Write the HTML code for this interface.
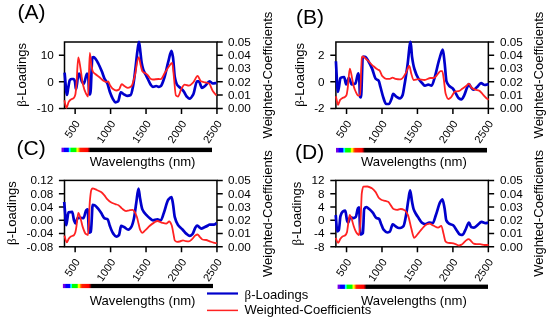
<!DOCTYPE html><html><head><meta charset="utf-8"><style>html,body{margin:0;padding:0;background:#fff;}svg{display:block;will-change:transform;filter:blur(0.3px);}text{font-family:"Liberation Sans", sans-serif;fill:#000;}</style></head><body>
<svg width="550" height="322" viewBox="0 0 550 322">
<rect width="100%" height="100%" fill="#fff"/>
<rect x="64.50" y="42.00" width="152.45" height="66.40" fill="none" stroke="#000" stroke-width="1.50"/>
<path d="M58.90,55.28H64.50 M58.90,81.84H64.50 M58.90,108.40H64.50 M216.95,42.00H222.75 M216.95,55.28H222.75 M216.95,68.56H222.75 M216.95,81.84H222.75 M216.95,95.12H222.75 M216.95,108.40H222.75 M75.14,108.40V113.90 M110.59,108.40V113.90 M146.04,108.40V113.90 M181.50,108.40V113.90 M216.95,108.40V113.90" stroke="#000" stroke-width="1.50" fill="none"/>
<g fill="none" stroke-linejoin="round" stroke-linecap="butt">
<path d="M64.60,72.70 C65.40,80.13 66.20,95.00 67.00,95.00 C67.40,95.00 67.80,90.10 68.20,88.00 C68.77,85.03 69.33,80.57 69.90,80.00 C70.50,79.40 71.10,79.00 71.70,79.00 C72.33,79.00 72.97,79.00 73.60,79.00 C74.07,79.00 74.53,80.22 75.00,81.80 C75.30,82.81 75.60,89.30 75.90,89.30 C76.23,89.30 76.57,86.48 76.90,84.60 C77.37,81.97 77.83,75.18 78.30,74.40 C78.60,73.90 78.90,73.50 79.20,73.50 C79.67,73.50 80.13,75.83 80.60,77.20 C81.07,78.57 81.53,81.04 82.00,81.80 C82.60,82.78 83.20,83.70 83.80,83.70 C84.87,83.70 85.93,73.70 87.00,73.70 C87.40,73.70 87.80,74.58 88.20,76.00 C88.53,77.19 88.87,94.30 89.20,94.30 C89.57,94.30 89.93,94.30 90.30,94.30 C91.00,94.30 91.70,57.85 92.40,57.40 C92.77,57.16 93.13,57.00 93.50,57.00 C94.33,57.00 95.17,58.44 96.00,59.50 C96.77,60.48 97.53,62.01 98.30,63.50 C99.50,65.83 100.70,68.66 101.90,71.60 C102.80,73.81 103.70,76.95 104.60,78.80 C105.50,80.65 106.40,81.30 107.30,83.30 C108.20,85.30 109.10,89.83 110.00,92.30 C110.90,94.77 111.80,97.05 112.70,98.60 C113.60,100.15 114.50,102.30 115.40,102.30 C116.30,102.30 117.20,101.95 118.10,101.40 C119.00,100.85 119.90,92.30 120.80,92.30 C121.70,92.30 122.60,93.58 123.50,94.10 C124.70,94.79 125.90,95.90 127.10,95.90 C128.30,95.90 129.50,95.60 130.70,95.00 C131.50,94.60 132.30,89.99 133.10,86.00 C133.87,82.18 134.63,75.23 135.40,69.00 C136.03,63.86 136.67,56.51 137.30,52.00 C137.87,47.97 138.43,41.90 139.00,41.90 C139.50,41.90 140.00,48.88 140.50,52.90 C140.87,55.85 141.23,60.45 141.60,62.60 C142.17,65.93 142.73,68.21 143.30,69.80 C144.10,72.05 144.90,73.08 145.70,74.70 C146.50,76.32 147.30,77.88 148.10,79.50 C148.90,81.12 149.70,83.33 150.50,84.40 C151.30,85.47 152.10,86.80 152.90,86.80 C154.00,86.80 155.10,86.00 156.20,86.00 C157.00,86.00 157.80,86.80 158.60,86.80 C159.30,86.80 160.00,86.49 160.70,86.10 C161.77,85.51 162.83,82.06 163.90,79.10 C165.37,75.03 166.83,67.02 168.30,61.70 C169.37,57.83 170.43,50.90 171.50,50.90 C172.00,50.90 172.50,54.34 173.00,57.40 C173.60,61.07 174.20,73.80 174.80,77.00 C175.53,80.91 176.27,83.42 177.00,84.60 C178.07,86.31 179.13,86.73 180.20,87.80 C181.30,88.90 182.40,89.72 183.50,91.10 C184.57,92.44 185.63,95.39 186.70,96.50 C187.67,97.51 188.63,98.70 189.60,98.70 C190.83,98.70 192.07,96.49 193.30,94.30 C194.53,92.11 195.77,81.30 197.00,81.30 C197.57,81.30 198.13,81.30 198.70,81.30 C199.80,81.30 200.90,87.80 202.00,87.80 C203.07,87.80 204.13,86.54 205.20,85.70 C206.67,84.55 208.13,81.30 209.60,81.30 C210.67,81.30 211.73,83.50 212.80,83.50 C214.03,83.50 215.27,83.17 216.50,83.00" stroke="#0000cc" stroke-width="2.7"/>
<path d="M64.40,100.30 C65.07,102.80 65.73,107.80 66.40,107.80 C67.20,107.80 68.00,102.84 68.80,101.70 C69.50,100.70 70.20,100.11 70.90,99.60 C71.90,98.86 72.90,98.87 73.90,97.90 C74.37,97.45 74.83,96.51 75.30,94.80 C75.63,93.58 75.97,89.54 76.30,86.00 C76.97,78.92 77.63,57.40 78.30,57.40 C79.03,57.40 79.77,64.07 80.50,68.30 C81.23,72.53 81.97,80.31 82.70,83.50 C83.77,88.14 84.83,91.24 85.90,93.30 C86.63,94.72 87.37,96.50 88.10,96.50 C88.67,96.50 89.23,53.00 89.80,53.00 C90.37,53.00 90.93,63.05 91.50,66.00 C91.97,68.43 92.43,70.80 92.90,71.60 C93.80,73.14 94.70,73.52 95.60,74.30 C96.80,75.34 98.00,76.01 99.20,77.00 C100.40,77.99 101.60,79.52 102.80,80.30 C104.00,81.08 105.20,82.10 106.40,82.10 C107.00,82.10 107.60,81.50 108.20,81.50 C108.80,81.50 109.40,84.13 110.00,85.10 C110.90,86.56 111.80,88.03 112.70,88.70 C113.90,89.59 115.10,90.50 116.30,90.50 C117.20,90.50 118.10,90.11 119.00,89.60 C119.90,89.09 120.80,84.20 121.70,84.20 C122.60,84.20 123.50,85.48 124.40,86.00 C125.60,86.69 126.80,87.80 128.00,87.80 C129.20,87.80 130.40,87.05 131.60,86.00 C132.60,85.12 133.60,80.49 134.60,76.80 C135.97,71.75 137.33,57.20 138.70,57.20 C139.40,57.20 140.10,63.23 140.80,65.80 C141.37,67.88 141.93,70.84 142.50,71.50 C143.30,72.42 144.10,72.57 144.90,73.10 C145.70,73.63 146.50,74.01 147.30,74.70 C148.37,75.61 149.43,78.15 150.50,78.70 C151.30,79.11 152.10,79.50 152.90,79.50 C154.80,79.50 156.70,79.00 158.60,79.00 C159.30,79.00 160.00,79.10 160.70,79.10 C162.13,79.10 163.57,74.78 165.00,72.60 C166.43,70.42 167.87,67.82 169.30,66.00 C170.27,64.77 171.23,62.80 172.20,62.80 C172.70,62.80 173.20,70.51 173.70,74.80 C174.43,81.10 175.17,94.68 175.90,95.40 C176.60,96.09 177.30,96.50 178.00,96.50 C179.10,96.50 180.20,90.73 181.30,88.90 C182.40,87.07 183.50,84.60 184.60,84.60 C186.03,84.60 187.47,85.70 188.90,85.70 C190.37,85.70 191.83,83.87 193.30,82.40 C194.73,80.96 196.17,75.90 197.60,75.90 C198.70,75.90 199.80,80.80 200.90,81.30 C202.33,81.96 203.77,82.02 205.20,82.40 C206.50,82.75 207.80,82.85 209.10,83.50 C210.33,84.12 211.57,89.27 212.80,91.10 C214.03,92.93 215.27,93.97 216.50,95.40" stroke="#ff2222" stroke-width="1.8"/>
</g>
<text x="53.70" y="59.18" font-size="11.7" text-anchor="end">10</text>
<text x="53.70" y="85.74" font-size="11.7" text-anchor="end">0</text>
<text x="53.70" y="112.30" font-size="11.7" text-anchor="end">-10</text>
<text x="228.10" y="45.90" font-size="11.7">0.05</text>
<text x="228.10" y="59.18" font-size="11.7">0.04</text>
<text x="228.10" y="72.46" font-size="11.7">0.03</text>
<text x="228.10" y="85.74" font-size="11.7">0.02</text>
<text x="228.10" y="99.02" font-size="11.7">0.01</text>
<text x="228.10" y="112.30" font-size="11.7">0.00</text>
<text x="0" y="0" font-size="11.0" text-anchor="end" transform="translate(80.54,123.60) rotate(-56.0)">500</text>
<text x="0" y="0" font-size="11.0" text-anchor="end" transform="translate(115.99,123.60) rotate(-56.0)">1000</text>
<text x="0" y="0" font-size="11.0" text-anchor="end" transform="translate(151.44,123.60) rotate(-56.0)">1500</text>
<text x="0" y="0" font-size="11.0" text-anchor="end" transform="translate(186.90,123.60) rotate(-56.0)">2000</text>
<text x="0" y="0" font-size="11.0" text-anchor="end" transform="translate(222.35,123.60) rotate(-56.0)">2500</text>
<text x="0" y="0" font-size="13" text-anchor="middle" transform="translate(25.70,74.90) rotate(-90)"><tspan font-family="Liberation Serif">β</tspan>-Loadings</text>
<text x="0" y="0" font-size="13" text-anchor="middle" transform="translate(271.50,75.05) rotate(-90)">Weighted-Coefficients</text>
<text x="17.50" y="18.70" font-size="21">(A)</text>
<linearGradient id="gA" x1="0" x2="1" y1="0" y2="0"><stop offset="0.0000" stop-color="#8000e0"/><stop offset="0.0146" stop-color="#6000f0"/><stop offset="0.0199" stop-color="#0000ff"/><stop offset="0.0452" stop-color="#0000ff"/><stop offset="0.0518" stop-color="#00ffff"/><stop offset="0.0571" stop-color="#00ffff"/><stop offset="0.0638" stop-color="#00ff00"/><stop offset="0.0944" stop-color="#00ff00"/><stop offset="0.1037" stop-color="#ffff00"/><stop offset="0.1090" stop-color="#ffff00"/><stop offset="0.1169" stop-color="#ff8000"/><stop offset="0.1262" stop-color="#ff2000"/><stop offset="0.1728" stop-color="#ff0000"/><stop offset="0.1827" stop-color="#800000"/><stop offset="0.1914" stop-color="#000000"/></linearGradient>
<rect x="61.50" y="147.70" width="150.50" height="4.40" fill="url(#gA)"/>
<text x="89.70" y="165.90" font-size="13.1">Wavelengths (nm)</text>
<rect x="335.90" y="42.00" width="152.45" height="66.40" fill="none" stroke="#000" stroke-width="1.50"/>
<path d="M330.30,55.28H335.90 M330.30,81.84H335.90 M330.30,108.40H335.90 M488.35,42.00H494.15 M488.35,55.28H494.15 M488.35,68.56H494.15 M488.35,81.84H494.15 M488.35,95.12H494.15 M488.35,108.40H494.15 M346.54,108.40V113.90 M381.99,108.40V113.90 M417.44,108.40V113.90 M452.90,108.40V113.90 M488.35,108.40V113.90" stroke="#000" stroke-width="1.50" fill="none"/>
<g fill="none" stroke-linejoin="round" stroke-linecap="butt">
<path d="M335.90,61.20 C336.20,66.80 336.50,72.93 336.80,78.00 C337.10,83.07 337.40,91.90 337.70,91.90 C338.07,91.90 338.43,89.60 338.80,88.00 C339.37,85.53 339.93,78.20 340.50,77.90 C341.73,77.25 342.97,77.00 344.20,77.00 C344.83,77.00 345.47,84.40 346.10,84.40 C347.03,84.40 347.97,77.90 348.90,77.90 C349.83,77.90 350.77,84.40 351.70,84.40 C352.93,84.40 354.17,84.09 355.40,83.50 C356.33,83.06 357.27,73.30 358.20,73.30 C358.53,73.30 358.87,75.33 359.20,78.00 C359.47,80.14 359.73,96.12 360.00,96.60 C360.33,97.20 360.67,97.50 361.00,97.50 C361.60,97.50 362.20,58.44 362.80,57.40 C363.10,56.88 363.40,56.50 363.70,56.50 C364.30,56.50 364.90,56.73 365.50,57.00 C366.47,57.43 367.43,59.59 368.40,61.20 C369.63,63.26 370.87,65.73 372.10,68.60 C373.33,71.47 374.57,77.65 375.80,78.90 C376.73,79.85 377.67,79.64 378.60,80.70 C379.23,81.42 379.87,84.96 380.50,87.20 C381.43,90.50 382.37,94.84 383.30,97.50 C384.23,100.16 385.17,104.00 386.10,104.00 C387.03,104.00 387.97,104.00 388.90,104.00 C389.83,104.00 390.77,100.79 391.70,98.40 C392.17,97.21 392.63,93.80 393.10,93.80 C394.17,93.80 395.23,95.93 396.30,96.60 C397.53,97.38 398.77,98.40 400.00,98.40 C400.83,98.40 401.67,97.08 402.50,95.40 C403.10,94.19 403.70,89.52 404.30,86.10 C405.33,80.22 406.37,73.20 407.40,66.00 C408.47,58.57 409.53,41.90 410.60,41.90 C411.07,41.90 411.53,53.27 412.00,56.60 C412.80,62.31 413.60,66.29 414.40,69.00 C415.70,73.40 417.00,76.29 418.30,78.40 C419.70,80.67 421.10,82.09 422.50,83.50 C423.33,84.34 424.17,85.70 425.00,85.70 C426.10,85.70 427.20,84.60 428.30,84.60 C429.40,84.60 430.50,85.70 431.60,85.70 C432.67,85.70 433.73,80.40 434.80,77.00 C436.27,72.32 437.73,64.33 439.20,59.60 C440.40,55.73 441.60,49.70 442.80,49.70 C443.43,49.70 444.07,58.28 444.70,63.60 C445.30,68.64 445.90,79.49 446.50,81.30 C447.43,84.12 448.37,85.01 449.30,86.00 C450.53,87.31 451.77,87.50 453.00,88.80 C453.93,89.78 454.87,91.85 455.80,93.40 C456.73,94.95 457.67,97.42 458.60,98.10 C459.53,98.78 460.47,99.40 461.40,99.40 C462.33,99.40 463.27,97.07 464.20,95.30 C465.13,93.53 466.07,89.88 467.00,87.80 C467.63,86.39 468.27,84.10 468.90,84.10 C469.50,84.10 470.10,86.16 470.70,86.90 C471.63,88.05 472.57,89.70 473.50,89.70 C474.73,89.70 475.97,87.95 477.20,86.90 C478.47,85.82 479.73,83.20 481.00,83.20 C482.23,83.20 483.47,85.00 484.70,85.00 C485.93,85.00 487.17,84.40 488.40,84.10" stroke="#0000cc" stroke-width="2.7"/>
<path d="M335.90,96.20 C336.63,99.10 337.37,104.90 338.10,104.90 C338.77,104.90 339.43,100.72 340.10,99.90 C340.80,99.04 341.50,98.63 342.20,98.20 C343.10,97.65 344.00,97.55 344.90,96.90 C345.47,96.49 346.03,96.02 346.60,94.80 C346.93,94.08 347.27,91.31 347.60,89.00 C348.33,83.91 349.07,68.60 349.80,68.60 C350.43,68.60 351.07,73.26 351.70,76.10 C352.30,78.79 352.90,83.14 353.50,85.40 C354.13,87.78 354.77,89.62 355.40,91.00 C356.33,93.03 357.27,95.70 358.20,95.70 C358.80,95.70 359.40,95.38 360.00,94.80 C360.63,94.19 361.27,58.49 361.90,57.40 C362.20,56.88 362.50,56.50 362.80,56.50 C364.33,56.50 365.87,58.84 367.40,60.20 C369.27,61.86 371.13,64.14 373.00,65.80 C374.57,67.20 376.13,68.66 377.70,69.60 C378.30,69.96 378.90,70.04 379.50,70.50 C380.43,71.22 381.37,75.07 382.30,76.10 C383.57,77.50 384.83,78.90 386.10,78.90 C387.33,78.90 388.57,78.90 389.80,78.90 C390.73,78.90 391.67,77.60 392.60,77.60 C393.53,77.60 394.47,78.73 395.40,78.90 C396.93,79.18 398.47,79.40 400.00,79.40 C400.40,79.40 400.80,79.30 401.20,79.20 C402.77,78.80 404.33,75.46 405.90,72.90 C407.03,71.05 408.17,66.00 409.30,66.00 C409.97,66.00 410.63,71.56 411.30,73.70 C412.07,76.16 412.83,80.00 413.60,80.00 C415.17,80.00 416.73,79.20 418.30,79.20 C420.37,79.20 422.43,80.00 424.50,80.00 C426.50,80.00 428.50,78.00 430.50,78.00 C431.57,78.00 432.63,78.00 433.70,78.00 C435.17,78.00 436.63,75.21 438.10,73.70 C438.90,72.87 439.70,71.10 440.50,71.10 C441.07,71.10 441.63,71.10 442.20,71.10 C442.70,71.10 443.20,75.50 443.70,78.50 C444.33,82.30 444.97,91.30 445.60,93.40 C446.53,96.49 447.47,99.00 448.40,99.00 C449.33,99.00 450.27,97.95 451.20,97.10 C452.43,95.97 453.67,91.85 454.90,91.60 C456.13,91.35 457.37,91.43 458.60,91.20 C459.83,90.97 461.07,89.65 462.30,88.80 C463.57,87.93 464.83,86.99 466.10,86.00 C467.03,85.27 467.97,83.70 468.90,83.70 C469.83,83.70 470.77,87.07 471.70,87.80 C472.93,88.76 474.17,89.29 475.40,89.70 C476.63,90.11 477.87,90.12 479.10,90.60 C480.33,91.08 481.57,93.07 482.80,94.30 C484.37,95.87 485.93,98.20 487.50,99.00 C487.93,99.22 488.37,99.33 488.80,99.50" stroke="#ff2222" stroke-width="1.8"/>
</g>
<text x="324.60" y="59.18" font-size="11.7" text-anchor="end">2</text>
<text x="324.60" y="85.74" font-size="11.7" text-anchor="end">0</text>
<text x="324.60" y="112.30" font-size="11.7" text-anchor="end">-2</text>
<text x="499.90" y="45.90" font-size="11.7">0.05</text>
<text x="499.90" y="59.18" font-size="11.7">0.04</text>
<text x="499.90" y="72.46" font-size="11.7">0.03</text>
<text x="499.90" y="85.74" font-size="11.7">0.02</text>
<text x="499.90" y="99.02" font-size="11.7">0.01</text>
<text x="499.90" y="112.30" font-size="11.7">0.00</text>
<text x="0" y="0" font-size="11.0" text-anchor="end" transform="translate(351.94,123.60) rotate(-56.0)">500</text>
<text x="0" y="0" font-size="11.0" text-anchor="end" transform="translate(387.39,123.60) rotate(-56.0)">1000</text>
<text x="0" y="0" font-size="11.0" text-anchor="end" transform="translate(422.84,123.60) rotate(-56.0)">1500</text>
<text x="0" y="0" font-size="11.0" text-anchor="end" transform="translate(458.30,123.60) rotate(-56.0)">2000</text>
<text x="0" y="0" font-size="11.0" text-anchor="end" transform="translate(493.75,123.60) rotate(-56.0)">2500</text>
<text x="0" y="0" font-size="13" text-anchor="middle" transform="translate(303.70,74.90) rotate(-90)"><tspan font-family="Liberation Serif">β</tspan>-Loadings</text>
<text x="0" y="0" font-size="13" text-anchor="middle" transform="translate(543.40,75.05) rotate(-90)">Weighted-Coefficients</text>
<text x="295.90" y="23.50" font-size="21">(B)</text>
<linearGradient id="gB" x1="0" x2="1" y1="0" y2="0"><stop offset="0.0000" stop-color="#8000e0"/><stop offset="0.0146" stop-color="#6000f0"/><stop offset="0.0199" stop-color="#0000ff"/><stop offset="0.0450" stop-color="#0000ff"/><stop offset="0.0517" stop-color="#00ffff"/><stop offset="0.0570" stop-color="#00ffff"/><stop offset="0.0636" stop-color="#00ff00"/><stop offset="0.0940" stop-color="#00ff00"/><stop offset="0.1033" stop-color="#ffff00"/><stop offset="0.1086" stop-color="#ffff00"/><stop offset="0.1166" stop-color="#ff8000"/><stop offset="0.1258" stop-color="#ff2000"/><stop offset="0.1722" stop-color="#ff0000"/><stop offset="0.1821" stop-color="#800000"/><stop offset="0.1907" stop-color="#000000"/></linearGradient>
<rect x="336.00" y="147.90" width="151.00" height="4.60" fill="url(#gB)"/>
<text x="361.00" y="166.10" font-size="13.1">Wavelengths (nm)</text>
<rect x="64.50" y="180.40" width="152.45" height="66.40" fill="none" stroke="#000" stroke-width="1.50"/>
<path d="M58.90,180.40H64.50 M58.90,193.68H64.50 M58.90,206.96H64.50 M58.90,220.24H64.50 M58.90,233.52H64.50 M58.90,246.80H64.50 M216.95,180.40H222.75 M216.95,193.68H222.75 M216.95,206.96H222.75 M216.95,220.24H222.75 M216.95,233.52H222.75 M216.95,246.80H222.75 M75.14,246.80V252.30 M110.59,246.80V252.30 M146.04,246.80V252.30 M181.50,246.80V252.30 M216.95,246.80V252.30" stroke="#000" stroke-width="1.50" fill="none"/>
<g fill="none" stroke-linejoin="round" stroke-linecap="butt">
<path d="M64.20,202.00 C64.53,206.00 64.87,209.93 65.20,214.00 C65.50,217.67 65.80,225.20 66.10,225.20 C66.47,225.20 66.83,221.93 67.20,220.00 C67.63,217.72 68.07,212.31 68.50,212.20 C69.73,211.89 70.97,211.80 72.20,211.80 C72.83,211.80 73.47,218.78 74.10,220.60 C74.53,221.85 74.97,223.40 75.40,223.40 C76.20,223.40 77.00,217.80 77.80,217.80 C78.73,217.80 79.67,217.80 80.60,217.80 C81.53,217.80 82.47,218.20 83.40,218.20 C84.33,218.20 85.27,211.17 86.20,210.30 C86.70,209.84 87.20,209.40 87.70,209.40 C88.13,209.40 88.57,232.70 89.00,232.70 C89.63,232.70 90.27,232.39 90.90,231.80 C91.50,231.24 92.10,204.80 92.70,204.80 C93.33,204.80 93.97,204.99 94.60,205.20 C95.70,205.56 96.80,207.15 97.90,208.40 C98.97,209.61 100.03,211.21 101.10,212.80 C102.20,214.44 103.30,217.59 104.40,218.20 C105.50,218.81 106.60,218.60 107.70,219.30 C108.40,219.75 109.10,223.93 109.80,225.80 C110.90,228.74 112.00,231.84 113.10,233.40 C114.17,234.92 115.23,236.70 116.30,236.70 C117.20,236.70 118.10,236.02 119.00,235.00 C119.70,234.20 120.40,225.80 121.10,225.80 C122.07,225.80 123.03,226.53 124.00,227.00 C125.47,227.72 126.93,229.70 128.40,229.70 C129.43,229.70 130.47,228.22 131.50,226.60 C132.30,225.35 133.10,222.32 133.90,218.80 C134.67,215.43 135.43,208.35 136.20,203.30 C136.97,198.25 137.73,188.50 138.50,188.50 C139.03,188.50 139.57,195.69 140.10,198.60 C140.87,202.79 141.63,207.78 142.40,209.50 C143.70,212.42 145.00,213.45 146.30,214.90 C147.47,216.20 148.63,217.27 149.80,218.20 C150.87,219.05 151.93,220.40 153.00,220.40 C154.47,220.40 155.93,219.30 157.40,219.30 C158.50,219.30 159.60,220.40 160.70,220.40 C161.77,220.40 162.83,215.60 163.90,212.80 C165.37,208.95 166.83,201.52 168.30,199.70 C169.37,198.38 170.43,197.10 171.50,197.10 C172.00,197.10 172.50,201.20 173.00,204.00 C173.60,207.36 174.20,214.78 174.80,217.10 C175.87,221.22 176.93,223.44 178.00,225.00 C179.50,227.19 181.00,227.92 182.50,229.50 C183.73,230.80 184.97,232.60 186.20,233.60 C187.40,234.57 188.60,235.90 189.80,235.90 C190.70,235.90 191.60,235.03 192.50,234.10 C193.43,233.14 194.37,229.15 195.30,227.70 C195.90,226.76 196.50,225.50 197.10,225.50 C197.70,225.50 198.30,226.35 198.90,226.80 C199.67,227.37 200.43,228.60 201.20,228.60 C202.27,228.60 203.33,227.78 204.40,227.30 C205.60,226.76 206.80,226.18 208.00,225.50 C208.53,225.20 209.07,224.50 209.60,224.50 C211.03,224.50 212.47,224.70 213.90,224.70 C214.77,224.70 215.63,223.70 216.50,223.20" stroke="#0000cc" stroke-width="2.7"/>
<path d="M64.40,235.60 C65.20,237.87 66.00,242.40 66.80,242.40 C67.47,242.40 68.13,239.45 68.80,238.60 C69.50,237.71 70.20,237.05 70.90,236.60 C71.90,235.96 72.90,236.01 73.90,235.20 C74.37,234.82 74.83,233.84 75.30,232.50 C75.63,231.54 75.97,229.36 76.30,227.40 C76.97,223.47 77.63,212.80 78.30,212.80 C79.03,212.80 79.77,215.98 80.50,218.20 C81.23,220.42 81.97,224.76 82.70,226.90 C83.77,230.01 84.83,233.39 85.90,234.10 C86.63,234.59 87.37,235.00 88.10,235.00 C88.67,235.00 89.23,208.23 89.80,201.90 C90.30,196.31 90.80,191.19 91.30,190.00 C91.67,189.13 92.03,188.40 92.40,188.40 C93.87,188.40 95.33,189.39 96.80,190.00 C98.23,190.60 99.67,191.14 101.10,192.10 C102.20,192.83 103.30,194.16 104.40,195.40 C105.50,196.64 106.60,198.60 107.70,199.70 C108.77,200.77 109.83,201.71 110.90,202.30 C112.37,203.11 113.83,203.55 115.30,204.10 C116.37,204.50 117.43,204.66 118.50,205.20 C119.60,205.76 120.70,207.55 121.80,208.40 C123.23,209.50 124.67,211.10 126.10,211.10 C127.13,211.10 128.17,210.49 129.20,210.30 C130.33,210.09 131.47,209.80 132.60,209.80 C133.27,209.80 133.93,210.88 134.60,211.80 C135.40,212.90 136.20,214.89 137.00,217.30 C137.50,218.81 138.00,221.50 138.50,223.50 C139.03,225.63 139.57,228.54 140.10,229.70 C140.80,231.23 141.50,232.80 142.20,232.80 C143.27,232.80 144.33,231.15 145.40,230.20 C146.87,228.89 148.33,227.05 149.80,225.80 C151.23,224.58 152.67,223.43 154.10,222.60 C155.20,221.96 156.30,221.00 157.40,221.00 C158.83,221.00 160.27,222.17 161.70,222.60 C163.17,223.04 164.63,223.70 166.10,223.70 C167.17,223.70 168.23,221.50 169.30,221.50 C170.07,221.50 170.83,223.20 171.60,225.00 C172.23,226.49 172.87,231.02 173.50,234.10 C173.93,236.21 174.37,240.03 174.80,240.50 C175.57,241.34 176.33,241.80 177.10,241.80 C178.00,241.80 178.90,241.65 179.80,241.50 C180.87,241.32 181.93,240.30 183.00,240.30 C183.90,240.30 184.80,241.10 185.70,241.20 C186.77,241.31 187.83,241.40 188.90,241.40 C189.97,241.40 191.03,240.04 192.10,239.10 C193.17,238.16 194.23,236.17 195.30,235.50 C196.03,235.04 196.77,234.50 197.50,234.50 C198.27,234.50 199.03,236.03 199.80,236.80 C200.70,237.70 201.60,239.28 202.50,239.50 C203.73,239.81 204.97,239.75 206.20,240.00 C207.40,240.24 208.60,240.96 209.80,241.40 C211.03,241.86 212.27,242.44 213.50,242.70 C214.60,242.93 215.70,243.03 216.80,243.20" stroke="#ff2222" stroke-width="1.8"/>
</g>
<text x="53.20" y="184.30" font-size="11.7" text-anchor="end">0.12</text>
<text x="53.20" y="197.58" font-size="11.7" text-anchor="end">0.08</text>
<text x="53.20" y="210.86" font-size="11.7" text-anchor="end">0.04</text>
<text x="53.20" y="224.14" font-size="11.7" text-anchor="end">0.00</text>
<text x="53.20" y="237.42" font-size="11.7" text-anchor="end">-0.04</text>
<text x="53.20" y="250.70" font-size="11.7" text-anchor="end">-0.08</text>
<text x="228.10" y="184.30" font-size="11.7">0.05</text>
<text x="228.10" y="197.58" font-size="11.7">0.04</text>
<text x="228.10" y="210.86" font-size="11.7">0.03</text>
<text x="228.10" y="224.14" font-size="11.7">0.02</text>
<text x="228.10" y="237.42" font-size="11.7">0.01</text>
<text x="228.10" y="250.70" font-size="11.7">0.00</text>
<text x="0" y="0" font-size="11.0" text-anchor="end" transform="translate(80.54,262.00) rotate(-56.0)">500</text>
<text x="0" y="0" font-size="11.0" text-anchor="end" transform="translate(115.99,262.00) rotate(-56.0)">1000</text>
<text x="0" y="0" font-size="11.0" text-anchor="end" transform="translate(151.44,262.00) rotate(-56.0)">1500</text>
<text x="0" y="0" font-size="11.0" text-anchor="end" transform="translate(186.90,262.00) rotate(-56.0)">2000</text>
<text x="0" y="0" font-size="11.0" text-anchor="end" transform="translate(222.35,262.00) rotate(-56.0)">2500</text>
<text x="0" y="0" font-size="13" text-anchor="middle" transform="translate(16.00,213.05) rotate(-90)"><tspan font-family="Liberation Serif">β</tspan>-Loadings</text>
<text x="0" y="0" font-size="13" text-anchor="middle" transform="translate(271.50,213.60) rotate(-90)">Weighted-Coefficients</text>
<text x="16.60" y="154.50" font-size="21">(C)</text>
<linearGradient id="gC" x1="0" x2="1" y1="0" y2="0"><stop offset="0.0000" stop-color="#8000e0"/><stop offset="0.0147" stop-color="#6000f0"/><stop offset="0.0200" stop-color="#0000ff"/><stop offset="0.0453" stop-color="#0000ff"/><stop offset="0.0520" stop-color="#00ffff"/><stop offset="0.0573" stop-color="#00ffff"/><stop offset="0.0640" stop-color="#00ff00"/><stop offset="0.0946" stop-color="#00ff00"/><stop offset="0.1039" stop-color="#ffff00"/><stop offset="0.1093" stop-color="#ffff00"/><stop offset="0.1173" stop-color="#ff8000"/><stop offset="0.1266" stop-color="#ff2000"/><stop offset="0.1732" stop-color="#ff0000"/><stop offset="0.1832" stop-color="#800000"/><stop offset="0.1919" stop-color="#000000"/></linearGradient>
<rect x="62.90" y="283.90" width="150.10" height="4.20" fill="url(#gC)"/>
<text x="89.70" y="304.60" font-size="13.1">Wavelengths (nm)</text>
<rect x="335.90" y="180.40" width="152.45" height="66.40" fill="none" stroke="#000" stroke-width="1.50"/>
<path d="M330.30,180.40H335.90 M330.30,193.68H335.90 M330.30,206.96H335.90 M330.30,220.24H335.90 M330.30,233.52H335.90 M330.30,246.80H335.90 M488.35,180.40H494.15 M488.35,193.68H494.15 M488.35,206.96H494.15 M488.35,220.24H494.15 M488.35,233.52H494.15 M488.35,246.80H494.15 M346.54,246.80V252.30 M381.99,246.80V252.30 M417.44,246.80V252.30 M452.90,246.80V252.30 M488.35,246.80V252.30" stroke="#000" stroke-width="1.50" fill="none"/>
<g fill="none" stroke-linejoin="round" stroke-linecap="butt">
<path d="M335.70,215.00 C336.23,220.43 336.77,231.30 337.30,231.30 C337.80,231.30 338.30,230.86 338.80,230.20 C339.37,229.45 339.93,217.84 340.50,216.00 C341.23,213.61 341.97,212.22 342.70,211.70 C343.57,211.09 344.43,210.60 345.30,210.60 C345.87,210.60 346.43,218.77 347.00,220.40 C347.37,221.45 347.73,222.60 348.10,222.60 C348.83,222.60 349.57,217.10 350.30,217.10 C351.40,217.10 352.50,218.20 353.60,218.20 C354.30,218.20 355.00,217.74 355.70,217.10 C356.43,216.43 357.17,209.50 357.90,208.40 C358.27,207.85 358.63,207.30 359.00,207.30 C359.50,207.30 360.00,234.50 360.50,234.50 C360.93,234.50 361.37,234.24 361.80,234.00 C362.17,233.80 362.53,233.62 362.90,233.00 C363.33,232.27 363.77,209.71 364.20,209.00 C364.97,207.74 365.73,207.20 366.50,207.20 C367.40,207.20 368.30,208.29 369.20,209.00 C370.40,209.95 371.60,211.16 372.80,212.60 C374.00,214.04 375.20,217.36 376.40,218.00 C377.30,218.48 378.20,218.34 379.10,218.90 C379.70,219.27 380.30,221.95 380.90,223.40 C381.80,225.58 382.70,228.62 383.60,229.70 C384.80,231.13 386.00,232.50 387.20,232.50 C388.10,232.50 389.00,232.13 389.90,231.60 C390.80,231.07 391.70,224.30 392.60,224.30 C393.50,224.30 394.40,225.57 395.30,226.10 C396.50,226.81 397.70,228.00 398.90,228.00 C399.67,228.00 400.43,227.87 401.20,227.70 C401.97,227.53 402.73,227.01 403.50,226.10 C404.30,225.15 405.10,220.08 405.90,216.00 C406.77,211.57 407.63,204.07 408.50,199.00 C409.03,195.88 409.57,190.40 410.10,190.40 C410.77,190.40 411.43,198.66 412.10,202.10 C412.60,204.68 413.10,207.64 413.60,209.10 C414.40,211.44 415.20,212.58 416.00,214.00 C416.77,215.36 417.53,216.45 418.30,217.60 C419.47,219.35 420.63,221.78 421.80,222.60 C422.87,223.35 423.93,224.10 425.00,224.10 C426.47,224.10 427.93,222.60 429.40,222.60 C430.50,222.60 431.60,223.20 432.70,223.20 C433.77,223.20 434.83,217.93 435.90,215.00 C437.37,210.98 438.83,204.35 440.30,201.90 C441.00,200.73 441.70,199.30 442.40,199.30 C443.13,199.30 443.87,204.53 444.60,208.40 C445.17,211.39 445.73,219.15 446.30,220.40 C447.20,222.38 448.10,223.14 449.00,223.70 C450.43,224.59 451.87,224.49 453.30,225.40 C454.40,226.10 455.50,228.66 456.60,230.20 C457.67,231.69 458.73,234.15 459.80,234.50 C460.67,234.78 461.53,235.00 462.40,235.00 C463.37,235.00 464.33,231.96 465.30,230.20 C466.53,227.95 467.77,222.60 469.00,222.60 C469.70,222.60 470.40,226.58 471.10,226.90 C472.07,227.34 473.03,227.60 474.00,227.60 C475.07,227.60 476.13,226.18 477.20,225.40 C478.67,224.32 480.13,221.90 481.60,221.90 C482.90,221.90 484.20,223.20 485.50,223.20 C486.33,223.20 487.17,222.80 488.00,222.60" stroke="#0000cc" stroke-width="2.7"/>
<path d="M335.70,237.90 C336.50,239.57 337.30,242.90 338.10,242.90 C338.90,242.90 339.70,239.62 340.50,238.60 C341.17,237.75 341.83,237.05 342.50,236.60 C343.43,235.97 344.37,235.97 345.30,235.20 C345.87,234.73 346.43,233.83 347.00,232.10 C347.30,231.18 347.60,227.94 347.90,226.00 C348.50,222.12 349.10,215.00 349.70,215.00 C350.27,215.00 350.83,216.84 351.40,218.20 C352.13,219.96 352.87,223.62 353.60,225.80 C354.30,227.88 355.00,230.17 355.70,231.30 C356.80,233.08 357.90,235.00 359.00,235.00 C359.50,235.00 360.00,227.93 360.50,221.50 C360.93,215.93 361.37,196.38 361.80,193.20 C362.30,189.53 362.80,186.76 363.30,186.70 C364.67,186.54 366.03,186.50 367.40,186.50 C368.90,186.50 370.40,187.43 371.90,188.30 C373.10,189.00 374.30,190.37 375.50,191.90 C376.70,193.43 377.90,197.07 379.10,198.20 C380.00,199.05 380.90,199.67 381.80,200.00 C383.00,200.45 384.20,200.55 385.40,200.90 C386.30,201.16 387.20,201.32 388.10,201.80 C389.00,202.28 389.90,204.20 390.80,205.40 C391.70,206.60 392.60,208.61 393.50,209.00 C394.70,209.52 395.90,209.90 397.10,209.90 C398.30,209.90 399.50,209.00 400.70,209.00 C402.03,209.00 403.37,209.52 404.70,210.20 C405.77,210.75 406.83,212.69 407.90,215.00 C409.00,217.38 410.10,224.08 411.20,228.00 C412.20,231.57 413.20,237.80 414.20,237.80 C415.27,237.80 416.33,235.69 417.40,234.50 C418.87,232.86 420.33,230.74 421.80,229.10 C423.23,227.50 424.67,225.35 426.10,224.70 C427.20,224.20 428.30,223.70 429.40,223.70 C430.83,223.70 432.27,225.16 433.70,225.80 C435.17,226.45 436.63,227.60 438.10,227.60 C439.17,227.60 440.23,225.80 441.30,225.80 C442.07,225.80 442.83,231.24 443.60,234.10 C444.23,236.46 444.87,240.63 445.50,241.40 C446.10,242.13 446.70,242.57 447.30,242.70 C448.80,243.02 450.30,242.97 451.80,243.20 C453.03,243.39 454.27,243.73 455.50,244.10 C456.70,244.46 457.90,245.50 459.10,245.50 C460.00,245.50 460.90,244.97 461.80,244.50 C463.03,243.85 464.27,241.79 465.50,240.90 C466.53,240.15 467.57,239.10 468.60,239.10 C469.37,239.10 470.13,240.23 470.90,240.90 C471.80,241.69 472.70,243.33 473.60,243.60 C474.53,243.88 475.47,244.10 476.40,244.10 C477.60,244.10 478.80,244.10 480.00,244.10 C481.50,244.10 483.00,245.00 484.50,245.00 C485.83,245.00 487.17,245.00 488.50,245.00" stroke="#ff2222" stroke-width="1.8"/>
</g>
<text x="324.50" y="184.30" font-size="11.7" text-anchor="end">12</text>
<text x="324.50" y="197.58" font-size="11.7" text-anchor="end">8</text>
<text x="324.50" y="210.86" font-size="11.7" text-anchor="end">4</text>
<text x="324.50" y="224.14" font-size="11.7" text-anchor="end">0</text>
<text x="324.50" y="237.42" font-size="11.7" text-anchor="end">-4</text>
<text x="324.50" y="250.70" font-size="11.7" text-anchor="end">-8</text>
<text x="499.90" y="184.30" font-size="11.7">0.05</text>
<text x="499.90" y="197.58" font-size="11.7">0.04</text>
<text x="499.90" y="210.86" font-size="11.7">0.03</text>
<text x="499.90" y="224.14" font-size="11.7">0.02</text>
<text x="499.90" y="237.42" font-size="11.7">0.01</text>
<text x="499.90" y="250.70" font-size="11.7">0.00</text>
<text x="0" y="0" font-size="11.0" text-anchor="end" transform="translate(351.94,262.00) rotate(-56.0)">500</text>
<text x="0" y="0" font-size="11.0" text-anchor="end" transform="translate(387.39,262.00) rotate(-56.0)">1000</text>
<text x="0" y="0" font-size="11.0" text-anchor="end" transform="translate(422.84,262.00) rotate(-56.0)">1500</text>
<text x="0" y="0" font-size="11.0" text-anchor="end" transform="translate(458.30,262.00) rotate(-56.0)">2000</text>
<text x="0" y="0" font-size="11.0" text-anchor="end" transform="translate(493.75,262.00) rotate(-56.0)">2500</text>
<text x="0" y="0" font-size="13" text-anchor="middle" transform="translate(300.50,213.55) rotate(-90)"><tspan font-family="Liberation Serif">β</tspan>-Loadings</text>
<text x="0" y="0" font-size="13" text-anchor="middle" transform="translate(543.40,213.40) rotate(-90)">Weighted-Coefficients</text>
<text x="295.00" y="158.90" font-size="21">(D)</text>
<linearGradient id="gD" x1="0" x2="1" y1="0" y2="0"><stop offset="0.0000" stop-color="#8000e0"/><stop offset="0.0146" stop-color="#6000f0"/><stop offset="0.0199" stop-color="#0000ff"/><stop offset="0.0452" stop-color="#0000ff"/><stop offset="0.0519" stop-color="#00ffff"/><stop offset="0.0572" stop-color="#00ffff"/><stop offset="0.0638" stop-color="#00ff00"/><stop offset="0.0944" stop-color="#00ff00"/><stop offset="0.1037" stop-color="#ffff00"/><stop offset="0.1090" stop-color="#ffff00"/><stop offset="0.1170" stop-color="#ff8000"/><stop offset="0.1263" stop-color="#ff2000"/><stop offset="0.1729" stop-color="#ff0000"/><stop offset="0.1828" stop-color="#800000"/><stop offset="0.1915" stop-color="#000000"/></linearGradient>
<rect x="337.60" y="284.60" width="150.40" height="4.30" fill="url(#gD)"/>
<text x="361.00" y="304.70" font-size="13.1">Wavelengths (nm)</text>
<path d="M207,293.5H238" stroke="#0000cc" stroke-width="2.2"/>
<path d="M207,310.4H238" stroke="#ff2222" stroke-width="1.5"/>
<text x="244.5" y="299" font-size="13"><tspan font-family="Liberation Serif">β</tspan>-Loadings</text>
<text x="244.5" y="314.3" font-size="13">Weighted-Coefficients</text>
</svg></body></html>
